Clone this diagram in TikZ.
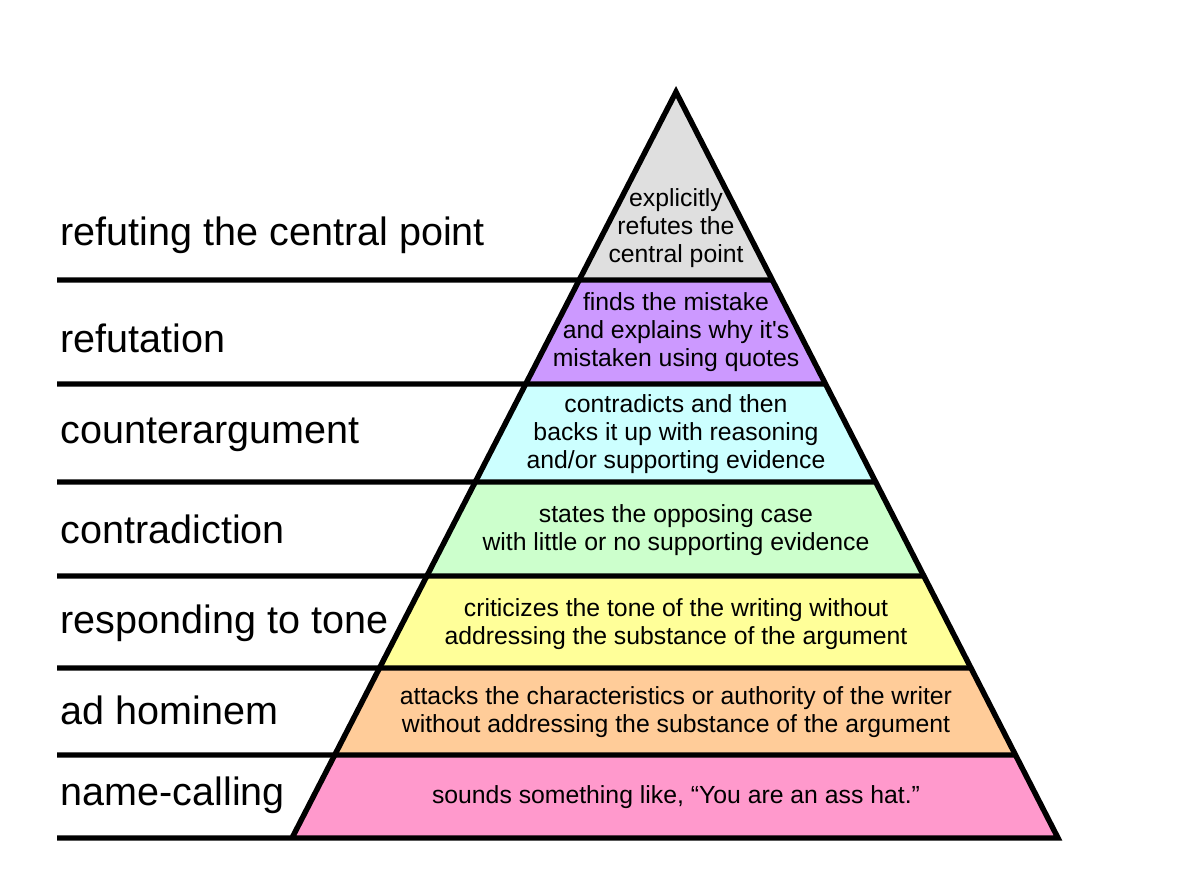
\documentclass[tikz,border=0pt]{standalone}
\usepackage{fontspec}
\setmainfont{Liberation Sans}
\newfontfamily\straightfont{Liberation Sans}
\usetikzlibrary{calc}
\definecolor{tgray}{HTML}{DFDFDF}
\definecolor{tpurple}{HTML}{CC99FF}
\definecolor{tcyan}{HTML}{CCFFFF}
\definecolor{tgreen}{HTML}{CCFFCC}
\definecolor{tyellow}{HTML}{FFFF99}
\definecolor{torange}{HTML}{FFCC99}
\definecolor{tpink}{HTML}{FF99CC}
\begin{document}
\begin{tikzpicture}[x=0.02cm,y=-0.02cm,line width=3.1pt,
  lvlname/.style={anchor=west,inner sep=0pt,font=\fontsize{22.5}{27}\selectfont},
  lvltext/.style={align=center,inner sep=0pt,font=\fontsize{14.1}{15.9}\selectfont}]
\useasboundingbox (0,0) rectangle (1200,885);
\coordinate (A) at (676,92);
\coordinate (L) at (292,838);
\coordinate (R) at (1058,838);
% bands
\foreach \ya/\yb/\col in {92/280/tgray,280/384/tpurple,384/482/tcyan,482/576/tgreen,576/668/tyellow,668/755/torange,755/838/tpink}
  \fill[\col] ($(A)!{(\ya-92)/746}!(L)$) -- ($(A)!{(\yb-92)/746}!(L)$)
    -- ($(A)!{(\yb-92)/746}!(R)$) -- ($(A)!{(\ya-92)/746}!(R)$) -- cycle;
% level lines
\foreach \y [count=\i] in {280,384,482,576,668,755}{
  \coordinate (l\i) at (57,\y);
  \coordinate (r\i) at ($(A)!{(\y-92)/746}!(R)$);
  \draw (l\i) -- (r\i);
}
\coordinate (l7) at (57,838);
\draw[line join=miter] (l7) -- (R) -- (A) -- (L);
% names
\node[lvlname] (n1) at (58,235) {refuting the central point};
\node[lvlname] (n2) at (58,338) {refutation};
\node[lvlname] (n3) at (58,435) {counterargument};
\node[lvlname] (n4) at (58,529) {contradiction};
\node[lvlname] (n5) at (58,623) {responding to tone};
\node[lvlname] (n6) at (58,710) {ad hominem};
\node[lvlname] (n7) at (58,795) {name-calling};
% descriptions
\node[lvltext] (t1) at (676,228) {explicitly\\refutes the\\central point};
\node[lvltext] (t2) at (676,332) {finds the mistake\\and explains why it{\straightfont'}s\\mistaken using quotes};
\node[lvltext] (t3) at (676,434) {contradicts and then\\backs it up with reasoning\\and/or supporting evidence};
\node[lvltext] (t4) at (676,530) {states the opposing case\\with little or no supporting evidence};
\node[lvltext] (t5) at (676,624) {criticizes the tone of the writing without\\addressing the substance of the argument};
\node[lvltext] (t6) at (676,712) {attacks the characteristics or authority of the writer\\without addressing the substance of the argument};
\node[lvltext] (t7) at (676,797) {sounds something like, “You are an ass hat.”};
\end{tikzpicture}
\end{document}
